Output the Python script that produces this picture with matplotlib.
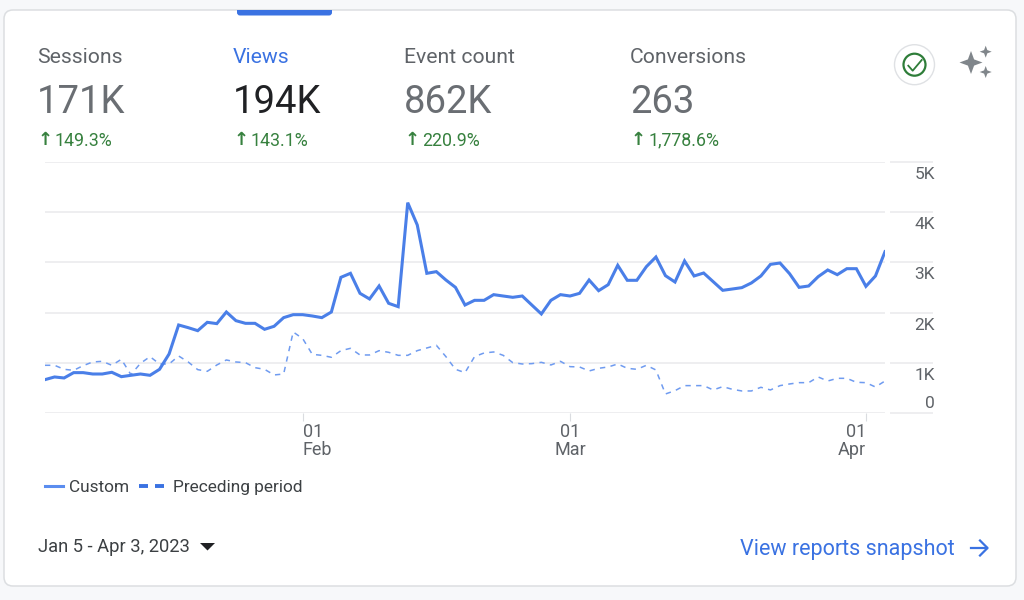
import matplotlib
matplotlib.use("Agg")
import matplotlib.pyplot as plt
import matplotlib.dates as mdates
import matplotlib.transforms as mtransforms
from matplotlib.patches import Circle, FancyBboxPatch, Polygon, Rectangle
import numpy as np
import pandas as pd

plt.rcParams['font.family'] = ['Roboto', 'DejaVu Sans']

# values
custom = [669, 722, 702, 808, 808, 781, 781, 815, 728, 755, 781, 755, 874, 1179, 1755,
          1702, 1642, 1808, 1782, 2013, 1841, 1788, 1788, 1669, 1729, 1901, 1960, 1960,
          1934, 1901, 2013, 2702, 2782, 2384, 2272, 2530, 2186, 2119, 4186, 3742, 2782,
          2815, 2649, 2503, 2152, 2245, 2245, 2358, 2331, 2305, 2331, 2152, 1974, 2245,
          2358, 2331, 2384, 2649, 2437, 2556, 2941, 2643, 2643, 2914, 3106, 2735, 2609,
          3027, 2729, 2788, 2616, 2444, 2470, 2497, 2590, 2729, 2960, 2987, 2775, 2503,
          2530, 2715, 2848, 2755, 2874, 2874, 2523, 2729, 3212]
preceding = [954, 954, 874, 854, 947, 1020, 1033, 954, 1073, 768, 993, 1126, 980, 980, 1139,
             1020, 868, 834, 960, 1060, 1020, 1007, 907, 874, 762, 781, 1616, 1484, 1172,
             1152, 1113, 1245, 1291, 1159, 1159, 1245, 1212, 1152, 1152, 1245, 1298, 1351,
             1126, 874, 808, 1126, 1199, 1219, 1152, 1007, 980, 987, 1013, 960, 1033, 927,
             921, 841, 894, 921, 980, 894, 874, 954, 861, 384, 450, 550, 550, 550, 464,
             530, 477, 444, 444, 517, 464, 550, 583, 609, 609, 722, 642, 695, 695, 616,
             609, 523, 642]

metric_names = ["Sessions", "Views", "Event count", "Conversions"]
metric_values = ["171K", "194K", "862K", "263"]
metric_deltas = ["149.3%", "143.1%", "220.9%", "1,778.6%"]

y_ticks = [0, 1000, 2000, 3000, 4000, 5000]
y_labels = ["0", "1K", "2K", "3K", "4K", "5K"]
x_ticks = ["2023-02-01", "2023-03-01", "2023-04-01"]
x_labels = ["01\nFeb", "01\nMar", "01\nApr"]
x_aligns = ["left", "center", "right"]

BLUE = "#4a7fe8"
DARK_BLUE = "#3a72e2"
GREY = "#5f6368"
GREEN = "#37813f"
GRID = "#e9eaec"


def star(cx, cy, r, inner=0.38):
    # four pointed sparkle
    pts = []
    for i in range(8):
        a = i * np.pi / 4
        rad = r if i % 2 == 0 else r * inner
        pts.append((cx + rad * np.cos(a), cy + rad * np.sin(a)))
    return Polygon(pts, closed=True, color="#80868b", lw=0)


fig = plt.figure(figsize=(10.24, 6), dpi=100, facecolor="#f7f8fa")

# pixel space layer for the card and header
bg = fig.add_axes([0, 0, 1, 1], zorder=0)
bg.set_xlim(0, 1024)
bg.set_ylim(600, 0)
bg.axis("off")

bg.add_patch(FancyBboxPatch((12, 18), 996, 560, boxstyle="round,pad=8,rounding_size=9",
                            fc="white", ec="#dcdee1", lw=1.1))
tab = FancyBboxPatch((239.5, 6), 90, 7, boxstyle="round,pad=2.5,rounding_size=3", fc=DARK_BLUE, lw=0)
bg.add_patch(tab)
tab.set_clip_path(Rectangle((230, 10), 110, 10, transform=bg.transData))

metric_x = [38, 234, 405, 631]
for i in range(len(metric_names)):
    x = metric_x[i]
    selected = metric_names[i] == "Views"
    bg.text(x - 1, 63, metric_names[i], fontsize=15.2, color=DARK_BLUE if selected else GREY, va="baseline")
    bg.text(x - 1, 113, metric_values[i], fontsize=27.5,
            color="#202124" if selected else "#6a6e73", va="baseline")
    bg.text(x, 145, "\u2191", fontsize=13, color=GREEN, va="baseline", fontweight="bold",
            family=["DejaVu Sans"])
    bg.text(x + 17, 145.5, metric_deltas[i], fontsize=12.8, color=GREEN, va="baseline")

# check badge
bg.add_patch(Circle((914.5, 64.7), 20, fc="white", ec="#dfe1e4", lw=1))
bg.add_patch(Circle((914.5, 64.7), 11, fc="none", ec="#2e7d39", lw=1.6))
bg.plot([908.3, 912.7, 921.7], [65.7, 70.7, 60], color="#2e7d39", lw=1.3)

# sparkles
bg.add_patch(star(971, 62.5, 11.5))
bg.add_patch(star(985.7, 51.7, 6))
bg.add_patch(star(985.7, 72, 6))

# legend, the two samples have different lengths so it is drawn by hand
bg.plot([45, 63], [486, 486], color="#5b8def", lw=2.2)
bg.plot([139, 148], [486, 486], color=DARK_BLUE, lw=2.8, solid_capstyle="butt")
bg.plot([155, 164], [486, 486], color=DARK_BLUE, lw=2.8, solid_capstyle="butt")
bg.text(69, 492, "Custom", fontsize=12.4, color="#3c4043", va="baseline")
bg.text(173, 492, "Preceding period", fontsize=12.4, color="#3c4043", va="baseline")

# footer
bg.text(38, 552, "Jan 5 - Apr 3, 2023", fontsize=13.2, color="#3c4043", va="baseline")
bg.add_patch(Polygon([(200, 543), (215, 543), (207.5, 550.5)], closed=True, color="#202124", lw=0))
bg.text(740, 555, "View reports snapshot", fontsize=15.5, color=DARK_BLUE, va="baseline")
bg.plot([971, 987], [548, 548], color=DARK_BLUE, lw=1.6)
bg.plot([980, 987.5, 980], [540.5, 548, 555.5], color=DARK_BLUE, lw=1.6)

# chart
ax = fig.add_axes([45 / 1024, (600 - 413.3) / 600, 840 / 1024, 251.6 / 600], zorder=1)
ax.patch.set_alpha(0)

dates = pd.date_range("2023-01-05", periods=len(custom))
ax.plot(dates, preceding, color="#6f9bf0", lw=1.1, dashes=(3.5, 3.5), zorder=3)
ax.plot(dates, custom, color=BLUE, lw=2.2, zorder=4, solid_joinstyle="miter")

ax.set_xlim(dates[0], dates[-1])
ax.set_ylim(0, 5000)

ax.set_yticks(y_ticks)
ax.set_yticklabels(y_labels)
ax.set_xticks(mdates.date2num(pd.to_datetime(x_ticks)))
ax.set_xticklabels(x_labels, linespacing=1.0)

ax.grid(axis="y", color=GRID, lw=1.1)
ax.set_axisbelow(True)
for s in ax.spines.values():
    s.set_visible(False)

ax.tick_params(axis="x", length=6, width=0.8, color="#dadce0", labelcolor=GREY, labelsize=13, pad=1)
ax.tick_params(axis="y", left=False, labelleft=False, right=False, labelright=True,
               labelcolor=GREY, labelsize=12.5, pad=32.5)

# grid stubs on the right, next to the labels
ax.hlines(y_ticks, 1.006, 1.057, transform=ax.get_yaxis_transform(), color=GRID, lw=1.1, clip_on=False)

# y labels sit under their gridline, except 0 which sits above it
for label, tick in zip(ax.get_yticklabels(), y_ticks):
    label.set_ha("right")
    dy = 11 if tick == 0 else -11
    label.set_transform(label.get_transform() + mtransforms.ScaledTranslation(0, dy / 100, fig.dpi_scale_trans))

# the month labels are placed differently so they stay inside the plot
for label, align in zip(ax.get_xticklabels(), x_aligns):
    label.set_ha(align)
    label.set_multialignment(align)

fig.savefig("out.png", dpi=100, facecolor=fig.get_facecolor())
